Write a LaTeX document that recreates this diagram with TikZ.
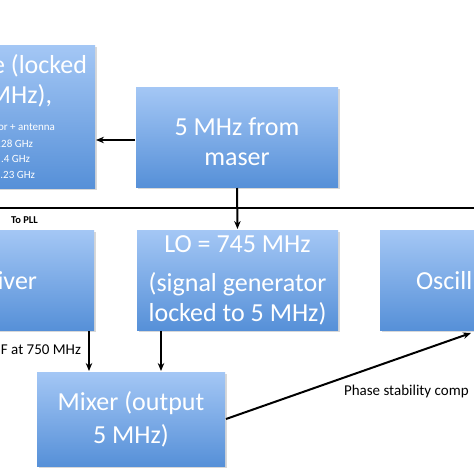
\documentclass[tikz,border=0pt]{standalone}
\usepackage{fontspec}
\setmainfont{Carlito}
\usepackage{xcolor}
\usetikzlibrary{arrows.meta,positioning,shadows}
\definecolor{boxtop}{HTML}{A4C7F5}
\definecolor{boxbot}{HTML}{5690D8}

\begin{document}
\begin{tikzpicture}[x=1pt, y=-1pt,
  every node/.style={font=\fontsize{15}{18}\selectfont, inner sep=0pt},
  box/.style={top color=boxtop, bottom color=boxbot, text=white, align=center,
    drop shadow={shadow xshift=1.5pt, shadow yshift=-2pt, opacity=0.3},
    font=\fontsize{26}{30}\selectfont},
  boxtxt/.style={text=white, font=\fontsize{26}{30}\selectfont},
  smalltxt/.style={text=white, font=\fontsize{11}{13}\selectfont},
  >={Stealth[length=8pt,width=6.5pt]}, line width=2pt
]
\useasboundingbox (0,0) rectangle (474,474);
\clip (0,0) rectangle (474,474);
\fill[white] (0,0) rectangle (474,474);

\node[box, minimum width=205pt, minimum height=143pt] (synth) at (-7.5,116.5) {};
\node[box, minimum width=202pt, minimum height=100pt] (maser) at (237,137)
  {\rule{0pt}{27pt}5 MHz from\\maser};
\node[box, minimum width=208pt, minimum height=100pt] (rcv) at (-10,280) {};
\node[box, minimum width=201pt, minimum height=100pt] (lo) at (237.5,280)
  {LO = 745 MHz\\[9pt](signal generator\\locked to 5 MHz)};
\node[box, minimum width=210pt, minimum height=100pt] (osc) at (485,280) {};
\node[box, minimum width=188pt, minimum height=94pt] (mixer) at (131,419)
  {Mixer (output\\[3pt]5 MHz)};

\node[boxtxt, anchor=base east] (synthA) at (88,73) {e (locked};
\node[boxtxt, anchor=base east] (synthB) at (53,103) {MHz),};
\node[smalltxt, anchor=base east] (synthC) at (56,130) {or + antenna};
\node[smalltxt, anchor=base east] (synthD) at (34,147) {.28 GHz};
\node[smalltxt, anchor=base east] (synthE) at (31,162) {.4 GHz};
\node[smalltxt, anchor=base east] (synthF) at (36,178) {.23 GHz};
\node[boxtxt, anchor=base east] (rcvtxt) at (38,289) {iver};
\node[boxtxt, anchor=base west] (osctxt) at (415,289) {Oscill};

\node[anchor=base west, font=\fontsize{10.5}{12}\selectfont\bfseries] (pll) at (10,223) {To PLL};
\node[anchor=base east] (iflab) at (82,354) {F at 750 MHz};
\node[anchor=base west] (phase) at (343,395) {Phase stability comp};

\coordinate (busL) at (-5,208);
\coordinate (busR) at (480,208);
\coordinate (rcvout) at ([xshift=-6pt]rcv.south east);
\coordinate (loout) at ([xshift=25pt]lo.south west);
\coordinate (osctip) at ([xshift=92pt,yshift=-2pt]osc.south west);

\draw (busL) -- (busR);
\draw[->] ([yshift=-3pt]maser.west) -- ([yshift=-3pt]maser.west -| synth.east);
\draw[->] (maser.south) -- (lo.north);
\draw[->] (rcvout) -- (rcvout |- mixer.north);
\draw[->] (loout) -- (loout |- mixer.north);
\draw[->] (mixer.east) -- (osctip);
\end{tikzpicture}
\end{document}
